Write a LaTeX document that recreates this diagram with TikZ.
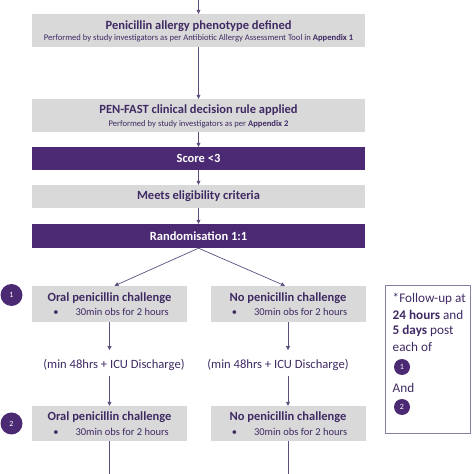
\documentclass[tikz,border=0pt]{standalone}
\usepackage{fontspec}
\setmainfont{Carlito}
\usetikzlibrary{arrows.meta,positioning}
\definecolor{pur}{HTML}{4B2A73}
\definecolor{gbox}{HTML}{D9D9D9}
\definecolor{lnc}{HTML}{5E4E7E}
\definecolor{txtp}{HTML}{3F2A63}
\definecolor{fbord}{HTML}{8A7FA3}
\tikzset{
  graybox/.style={fill=gbox,draw=none,minimum width=333pt,inner sep=0pt},
  purbox/.style={fill=pur,draw=none,minimum width=333pt,minimum height=23pt,inner sep=0pt,text=white,font=\bfseries\fontsize{12.5}{14}\selectfont},
  armbox/.style={fill=gbox,draw=none,minimum width=155pt,minimum height=36pt,inner sep=0pt},
  ttlt/.style={text=txtp,inner sep=0pt,font=\bfseries\fontsize{12.5}{14}\selectfont},
  subt/.style={text=txtp,inner sep=0pt,font=\fontsize{8.6}{10}\selectfont},
  bult/.style={text=txtp,inner sep=0pt,font=\fontsize{10.5}{12}\selectfont},
  numc/.style={circle,fill=pur,text=white,inner sep=0pt,font=\fontsize{8}{9}\selectfont},
  conn/.style={draw=lnc,line width=0.7pt},
  arr/.style={conn,-{Triangle[length=4pt,width=4pt]}},
  midtxt/.style={text=txtp,font=\fontsize{12.6}{14}\selectfont,inner sep=0pt},
  ftxt/.style={anchor=west,text=txtp,font=\fontsize{13.2}{15}\selectfont,inner sep=0pt}
}
\newcommand{\bul}{\textbullet\hspace{17pt}30min obs for 2 hours}
\begin{document}
\begin{tikzpicture}[x=1pt,y=1pt]
\useasboundingbox (0,0) rectangle (474,474);
\coordinate (top) at (198.5,474);
\node[graybox,minimum height=33pt] (b1) at (198.5,443.5) {};
\node[ttlt] (b1t) at ([yshift=4.5pt]b1.center) {Penicillin allergy phenotype defined};
\node[subt] (b1s) at ([yshift=-7.5pt]b1.center) {Performed by study investigators as per Antibiotic Allergy Assessment Tool in \textbf{Appendix 1}};
\node[graybox,minimum height=33pt] (b2) at (198.5,358.5) {};
\node[ttlt] (b2t) at ([yshift=5.5pt]b2.center) {PEN-FAST clinical decision rule applied};
\node[subt] (b2s) at ([yshift=-9pt]b2.center) {Performed by study investigators as per \textbf{Appendix 2}};
\node[purbox] (score) at (198.5,315.5) {Score <3};
\node[graybox,minimum height=23pt] (elig) at (198.5,277.5) {};
\node[ttlt] (eligt) at (elig.center) {Meets eligibility criteria};
\node[purbox,minimum height=24pt] (rand) at (198.5,238) {Randomisation 1:1};
\node[armbox] (l1) at (109.5,170) {};
\node[ttlt] (l1t) at ([yshift=6pt]l1.center) {Oral penicillin challenge};
\node[bult] (l1b) at ([xshift=1.5pt,yshift=-8pt]l1.center) {\bul};
\node[armbox] (r1) at (288,170) {};
\node[ttlt] (r1t) at ([yshift=6pt]r1.center) {No penicillin challenge};
\node[bult] (r1b) at ([xshift=1.5pt,yshift=-8pt]r1.center) {\bul};
\node[midtxt] (lt) at (114,109) {(min 48hrs + ICU Discharge)};
\node[midtxt] (rt) at (278,109) {(min 48hrs + ICU Discharge)};
\node[armbox,minimum height=35pt] (l2) at (109.5,50.5) {};
\node[ttlt] (l2t) at ([yshift=6pt]l2.center) {Oral penicillin challenge};
\node[bult] (l2b) at ([xshift=1.5pt,yshift=-8.5pt]l2.center) {\bul};
\node[armbox,minimum height=35pt] (r2) at (288,50.5) {};
\node[ttlt] (r2t) at ([yshift=6pt]r2.center) {No penicillin challenge};
\node[bult] (r2b) at ([xshift=1.5pt,yshift=-8.5pt]r2.center) {\bul};
\node[numc,minimum size=22pt] (c1) at (11.5,179) {1};
\node[numc,minimum size=22pt] (c2) at (11.5,50.5) {2};
\coordinate (lbot) at (109.5,0);
\coordinate (rbot) at (288,0);
% follow-up box
\node[draw=fbord,line width=0.8pt,minimum width=85pt,minimum height=148pt,inner sep=0pt] (fb) at (427.5,115) {};
\node[ftxt] (f1) at (392.5,175) {*Follow-up at};
\node[ftxt] (f2) at (392.5,159) {\textbf{24 hours} and};
\node[ftxt] (f3) at (392.5,143) {\textbf{5 days} post};
\node[ftxt] (f4) at (392.5,127) {each of};
\node[numc,minimum size=16pt] (fc1) at (402,107) {1};
\node[ftxt] (f5) at (392.5,86) {And};
\node[numc,minimum size=16pt] (fc2) at (402,67) {2};
% connectors
\draw[arr] (top) -- (b1.north);
\draw[arr] (b1.south) -- (b2.north);
\draw[arr] (b2.south) -- (score.north);
\draw[arr] (score.south) -- (elig.north);
\draw[arr] (elig.south) -- (rand.north);
\draw[arr] (rand.south) -- ([xshift=5pt]l1.north);
\draw[arr] (rand.south) -- ([xshift=-3pt]r1.north);
\draw[arr] (l1.south) -- ([yshift=9pt]lt.north -| l1.south);
\draw[arr] (r1.south) -- ([yshift=9pt]rt.north -| r1.south);
\draw[arr] ([yshift=-5pt]lt.south -| l2.north) -- (l2.north);
\draw[arr] ([yshift=-5pt]rt.south -| r2.north) -- (r2.north);
\draw[conn] (l2.south) -- (lbot);
\draw[conn] (r2.south) -- (rbot);
\end{tikzpicture}
\end{document}
